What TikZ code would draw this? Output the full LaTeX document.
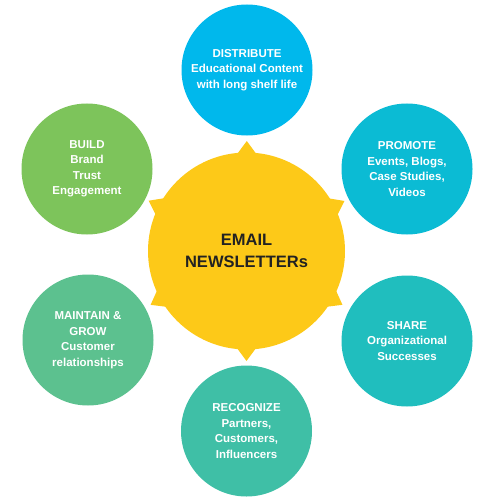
\documentclass[tikz,border=0pt]{standalone}
\usepackage{fontspec}
\setmainfont{Liberation Sans}
\usetikzlibrary{calc}
\definecolor{hubyellow}{HTML}{FDC918}
\definecolor{hubtext}{HTML}{222222}
\definecolor{distblue}{HTML}{00B8EC}
\definecolor{promcyan}{HTML}{0BBBD4}
\definecolor{shareteal}{HTML}{20BEBE}
\definecolor{recoggreen}{HTML}{3FBFA6}
\definecolor{maintgreen}{HTML}{5CC18F}
\definecolor{buildgreen}{HTML}{7DC45B}
\tikzset{
  topic/.style={circle,minimum size=131pt,inner sep=0pt,text=white,align=center,
    font=\fontsize{11.5}{15.5}\selectfont\bfseries},
  hub/.style={circle,minimum size=197pt,inner sep=0pt,fill=hubyellow,text=hubtext,align=center,
    font=\fontsize{16.5}{21.5}\selectfont\bfseries}
}
\begin{document}
\begin{tikzpicture}[x=1pt,y=-1pt]
  \useasboundingbox (0,0) rectangle (499,500);
  \node[hub] (news) at (246.5,251) {EMAIL\\NEWSLETTERs};
  \node[topic,fill=distblue] (distribute) at (247,70) {DISTRIBUTE\\Educational Content\\with long shelf life};
  \node[topic,fill=promcyan] (promote) at (407,169) {PROMOTE\\Events, Blogs,\\Case Studies,\\Videos};
  \node[topic,fill=shareteal] (share) at (407,341) {SHARE\\Organizational\\Successes};
  \node[topic,fill=recoggreen] (recognize) at (246.5,431) {RECOGNIZE\\Partners,\\Customers,\\Influencers};
  \node[topic,fill=maintgreen] (maintain) at (88,340) {MAINTAIN \&\\GROW\\Customer\\relationships};
  \node[topic,fill=buildgreen] (build) at (87,169) {BUILD\\Brand\\Trust\\Engagement};
  \foreach \nd in {distribute,promote,share,recognize,maintain,build}
    \fill[hubyellow] let \p1=($(\nd)-(news)$), \n1={atan2(\y1,\x1)} in
      ($(news)+(\n1-7:95pt)$) -- ($(news)+(\n1:110pt)$) -- ($(news)+(\n1+7:95pt)$) -- cycle;
\end{tikzpicture}
\end{document}
